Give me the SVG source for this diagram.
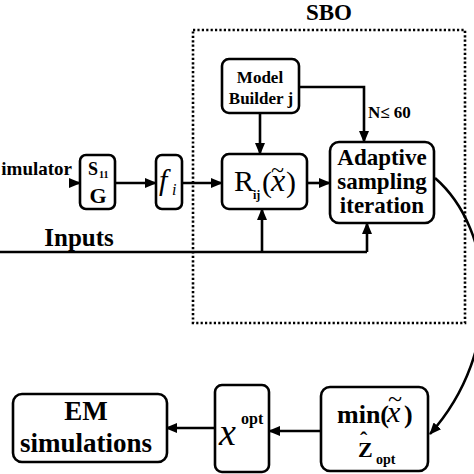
<svg xmlns="http://www.w3.org/2000/svg" width="474" height="474" viewBox="0 0 474 474">
<style>
.box{fill:#fff;stroke:#000;stroke-width:2.6}
.ln{fill:none;stroke:#000;stroke-width:2.6}
.t{font-family:'Liberation Serif','Times New Roman',Times,serif;font-weight:bold;fill:#000}
.n{font-family:'Liberation Serif','Times New Roman',Times,serif;font-weight:normal;fill:#000}
.it{font-family:'Liberation Serif','Times New Roman',Times,serif;font-style:italic;fill:#000}
</style>
<defs>
<marker id="ah" markerUnits="userSpaceOnUse" markerWidth="12" markerHeight="10" refX="11" refY="5" orient="auto">
<path d="M0,0 L12,5 L0,10 Z" fill="#000"/>
</marker>
</defs>
<rect x="0" y="0" width="474" height="474" fill="#fff"/>
<g id="sbo">
<rect x="193" y="30" width="272" height="293" fill="none" stroke="#000" stroke-width="2.6" stroke-dasharray="2.2 2.2"/>
<text class="t" x="329" y="20" font-size="23" text-anchor="middle">SBO</text>
</g>
<g id="connectors">
<line class="ln" x1="72" y1="183" x2="80" y2="183" marker-end="url(#ah)"/>
<line class="ln" x1="115" y1="183" x2="156" y2="183" marker-end="url(#ah)"/>
<line class="ln" x1="182" y1="183" x2="222" y2="183" marker-end="url(#ah)"/>
<line class="ln" x1="307" y1="183" x2="330" y2="183" marker-end="url(#ah)"/>
<line class="ln" x1="260" y1="113" x2="260" y2="154" marker-end="url(#ah)"/>
<polyline class="ln" points="299,87 364,87 364,142" marker-end="url(#ah)"/>
<polyline class="ln" points="0,252 367,252"/>
<line class="ln" x1="262" y1="252" x2="262" y2="209" marker-end="url(#ah)"/>
<line class="ln" x1="367" y1="252" x2="367" y2="223" marker-end="url(#ah)"/>
<path class="ln" d="M435,178 C495,230 505,350 430,434" marker-end="url(#ah)"/>
<line class="ln" x1="321" y1="431" x2="269" y2="431" marker-end="url(#ah)"/>
<line class="ln" x1="215" y1="428" x2="166" y2="428" marker-end="url(#ah)"/>
<text class="t" x="368" y="118" font-size="17">N≤ 60</text>
<text class="t" x="79" y="246" font-size="25" text-anchor="middle">Inputs</text>
<text class="t" x="72" y="175" font-size="19" text-anchor="end">imulator</text>
</g>
<g id="sg">
<rect class="box" x="80" y="155" width="35" height="54" rx="6"/>
<text class="t" x="88" y="175" font-size="18">S</text>
<text class="t" x="99" y="178" font-size="10">11</text>
<text class="t" x="98" y="203" font-size="22" text-anchor="middle">G</text>
</g>
<g id="fi">
<rect class="box" x="156" y="155" width="26" height="54" rx="6"/>
<text class="it" x="159" y="190" font-size="30">f</text>
<text class="it" x="172" y="195" font-size="16">i</text>
</g>
<g id="model">
<rect class="box" x="222" y="59" width="77" height="54" rx="7"/>
<text class="t" x="260" y="83" font-size="17" text-anchor="middle">Model</text>
<text class="t" x="261" y="104" font-size="17" text-anchor="middle">Builder j</text>
</g>
<g id="rij">
<rect class="box" x="222" y="154" width="85" height="55" rx="7"/>
<text class="n" x="234" y="191" font-size="30">R</text>
<text class="t" x="253" y="199" font-size="12">ij</text>
<text class="n" x="262" y="192" font-size="30">(</text>
<text class="it" x="271" y="191" font-size="32">x</text>
<text class="n" x="271" y="178" font-size="24">~</text>
<text class="n" x="286" y="192" font-size="30">)</text>
</g>
<g id="adaptive">
<rect class="box" x="330" y="142" width="104" height="81" rx="9"/>
<text class="t" x="382" y="165" font-size="23" text-anchor="middle">Adaptive</text>
<text class="t" x="382" y="189" font-size="23" text-anchor="middle">sampling</text>
<text class="t" x="382" y="213" font-size="23" text-anchor="middle">iteration</text>
</g>
<g id="min">
<rect class="box" x="321" y="387" width="107" height="84" rx="9"/>
<text class="t" x="337" y="423" font-size="26">min(</text>
<text class="it" x="387" y="422" font-size="30">x</text>
<text class="n" x="388" y="407" font-size="26">~</text>
<text class="t" x="404" y="423" font-size="26">)</text>
<text class="t" x="358" y="457" font-size="22">Z</text>
<text class="t" x="360" y="447" font-size="22">ˆ</text>
<text class="t" x="376" y="464" font-size="14">opt</text>
</g>
<g id="xopt">
<rect class="box" x="215" y="385" width="54" height="87" rx="7"/>
<text class="it" x="219" y="445" font-size="38">x</text>
<text class="t" x="241" y="424" font-size="16">opt</text>
</g>
<g id="em">
<rect class="box" x="13" y="394" width="154" height="68" rx="9"/>
<text class="t" x="86" y="420" font-size="27" text-anchor="middle">EM</text>
<text class="t" x="86" y="452" font-size="27" text-anchor="middle">simulations</text>
</g>
</svg>
